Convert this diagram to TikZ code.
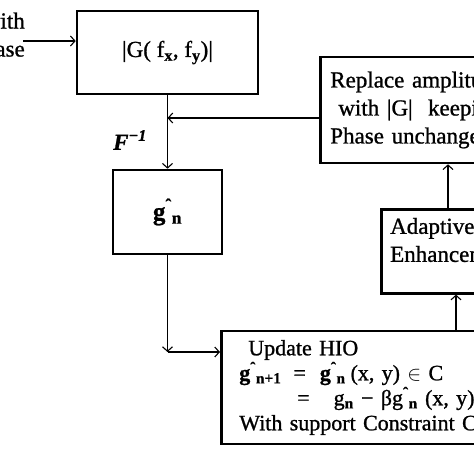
\documentclass[tikz,border=0pt]{standalone}
\usepackage{fontspec}
\setmainfont{Liberation Serif}
\newfontfamily\heavy{Liberation Serif}[FakeBold=1]
\usetikzlibrary{arrows.meta}
\newcommand{\hatg}[1]{\textbf{g}\textsuperscript{\textbf{ˆ}}\textsubscript{\textbf{#1}}}
\begin{document}
\begin{tikzpicture}[x=1pt,y=-1pt,
  box/.style={draw, line width=2.6pt, inner sep=0pt},
  conn/.style={line width=1.1pt},
  arr/.style={conn, -{Straight Barb[length=4.5pt,width=10pt,line width=1.1pt]}},
  big/.style={font=\heavy\fontsize{23}{28}\selectfont},
  mid/.style={font=\heavy\fontsize{22}{25}\selectfont}]
\useasboundingbox (0,0) rectangle (474,474);
\clip (0,0) rectangle (474,474);
\fill[white] (0,0) rectangle (474,474);

\node[big, anchor=east, align=right, inner sep=0pt] (S) at (25,37) {Start with\\random phase};
\node[box, big, minimum width=181pt, minimum height=83pt] (G) at (167.5,52.5)
  {|G( f\textsubscript{\textbf{x}}, f\textsubscript{\textbf{y}})|};
\node[box, font=\heavy\fontsize{25}{28}\selectfont, minimum width=109pt, minimum height=84pt] (g) at (167.5,212) {\raisebox{-3pt}{\hatg{n}}};
\node[big, inner sep=0pt] (F) at (130,140) {\textbf{\textit{F}}\textsuperscript{\textbf{\textit{−1}}}};
\node[box, big, anchor=west, align=left, text width=240pt, inner xsep=10pt,
  minimum height=106pt] (R) at (319,110)
  {Replace amplitude\\\hspace{0.35em}with |G|\ \ keeping\\Phase unchanged};
\node[box, anchor=north west, minimum width=200pt, minimum height=84pt] (A) at (380,208) {};
\node[big, anchor=west, align=left, inner sep=0pt] (At) at (390,240) {Adaptive Edge\\Enhancement};
\node[box, mid, anchor=west, align=left, text width=290pt, inner xsep=18pt,
  minimum height=113pt] (U) at (220,387.5)
  {\hspace{9pt}Update HIO\\
   \hatg{n+1}\hspace{12pt}=\hspace{14pt}\hatg{n}\hspace{5pt}(x, y) $\in$ C\\
   \hspace{58pt}=\hspace{24pt}g\textsubscript{\textbf{n}} − βg\textsuperscript{\textbf{ˆ}}\textsubscript{\textbf{n}} (x, y)\\
   With support Constraint C};

\coordinate (s) at (23,41);
\draw[arr] (s) -- (G.west |- s);
\draw[arr] (G.south) -- (g.north);
\coordinate (j) at (167.5,118);
\draw[arr] (R.west |- j) -- (j);
\coordinate (k) at (167.5,352);
\draw[arr] (g.south) -- (k);
\draw[arr] (k) -- (U.west |- k);
\coordinate (u1) at (456,0);
\draw[arr] (U.north -| u1) -- (A.south -| u1);
\coordinate (a1) at (448,0);
\draw[arr] (A.north -| a1) -- (R.south -| a1);
\end{tikzpicture}
\end{document}
